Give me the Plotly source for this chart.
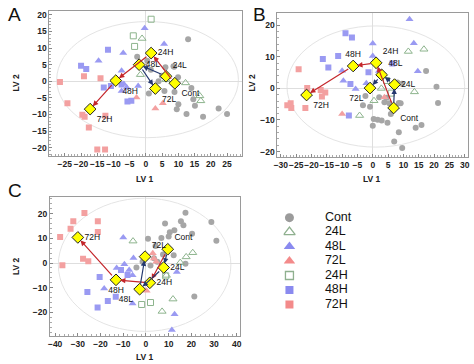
import plotly.graph_objects as go

# ---------------- groups / styles ----------------
groups = ["Cont", "24L", "48L", "72L", "24H", "48H", "72H"]
symbols = ["circle", "triangle-up-open", "triangle-up", "triangle-up",
           "square-open", "square", "square"]
point_colors = ["#a6a6a6", "#8db48d", "#9a9af2", "#f3a0a0", "#8db48d", "#9a9af2", "#f3a0a0"]
legend_colors = ["#707070", "#5f8f5f", "#5858e8", "#ee5858", "#5f8f5f", "#5858e8", "#ee5858"]
point_sizes = [6, 7, 7, 7, 6, 6, 6]
legend_sizes = [9, 10, 10, 10, 8, 8, 8]

# arrows: trajectories through centroids
path_red = ["Cont", "24H", "48H", "72H"]
path_blue = ["Cont", "24L", "48L", "72L"]

# ---------------- panel A ----------------
A_cont = [(13, 12.7), (-2.7, 7.4), (0.4, 6.2), (6, 4.2), (8.5, 4.5), (8.7, 4.4), (3.9, 0), (4.9, 1.7),
          (1.5, 3.5), (9.9, 1.2), (0.9, -3.7), (8.8, -3.2), (5.7, -2.9), (14, -2), (14.6, -5.4),
          (15.1, -7.4), (10, -6.9), (9.5, -8.4), (12.5, -9.9), (17.6, -10.7), (22.4, -8.2), (25, -9.9)]
A_24L = [(-1.2, 12.9), (-1.7, 2), (6.2, 0.5), (12.2, -0.5), (16.6, -4.4), (16.9, -5.9)]
A_48L = [(-0.4, 16), (5.6, 11.2), (-7, 8.5), (-14.6, 6.2), (-7.5, 3.2), (-2.4, -1.4), (-7.5, -2.9),
         (-5.9, -1.9), (-6.8, -0.8)]
A_72L = [(2.9, -8.2), (5.2, -6.6), (-2.9, -4.9)]
A_24H = [(1.6, 18.7), (-3.9, 13.7), (-3.5, 10.5)]
A_48H = [(-11.7, 9.5), (-20, 4.7), (-18.4, 3.7), (-13, -1.9), (-10.8, -1.4), (-5.7, -6.1),
         (-4.5, -5.9), (-7.5, -1)]
A_72H = [(-26.5, -0.2), (-24.2, -6.6), (-19.1, 1.5), (-14, 0.9), (-19.6, -10.1), (-18.9, -10.7),
         (-12.5, -10.4), (-17.6, -13.9), (-15, -20.6), (-12.6, -20.6)]
A_cent_x = [8.9, 6.2, -2.1, 2.9, 1.6, -9.3, -17.2]
A_cent_y = [-0.6, 1.5, 5.0, -2.2, 8.5, 0.2, -8.4]
A_label_pos = ["bottom right", "top right", "middle right", "bottom right",
               "middle right", "bottom right", "bottom right"]
A_ellipse = [0.5, 0.5, 28, 17.5]   # cx, cy, rx, ry
A_xrange = [-29.75, 29.5]
A_yrange = [-22.4, 21.1]
A_xticks = [-25, -20, -15, -10, -5, 0, 5, 10, 15, 20, 25]
A_yticks = [-20, -15, -10, -5, 0, 5, 10, 15, 20]

# ---------------- panel B ----------------
B_cont = [(17.4, 5.5), (20.8, 0.5), (21.3, -4.6), (15.9, -11.6), (14, -12.5), (8.5, -13.9), (7, -16.8),
          (9.6, -18.9), (0.3, -9.7), (1.6, -9.9), (2.9, -10.2), (4.8, -10.9), (0, -11.8), (-0.9, -5.8),
          (-3.2, -5.3), (-2.4, -2.4), (2.1, -2.8), (3.8, -4.4), (5.4, -4.7), (9.1, -4.7), (8, 1.9),
          (5.9, -8.1), (4.5, -3), (8.5, -4.6), (9.5, 1.5)]
B_24L = [(11.6, 11.7), (16.7, 12.4), (13.6, -1.1), (-4.3, -8.6), (2.8, 0), (0.4, -3.9)]
B_48L = [(12, 21.9), (13.4, 14.3), (14.7, 5.4), (0, 14.2), (0, 10.3), (-10, 5.6), (-9.6, 2.4),
         (-5.6, -0.2), (-2.1, 1.6), (2, 5.5)]
B_72L = [(-10, -8.1), (3.8, -2.8)]
B_24H = [(4.5, 2.5), (6, -1.5)]
B_48H = [(-8.9, 17.5), (-6.8, 16.1), (-16.3, 9.3), (-14.5, 6.6), (-11.3, 10.3), (-1.4, 5.1),
         (6.4, 7.9), (-7.3, 1.4), (-7.8, -8.6)]
B_72H = [(-24.2, 6.1), (-21.4, 0.1), (-15.5, -1.3), (-16.6, -2.6), (-27.9, -5.3), (-26.8, -4.7),
         (-26.6, -6.2), (-22, -6.2), (-17, -0.5)]
B_cent_x = [6.8, 7.1, 2.9, -0.9, 1.1, -6.4, -21.6]
B_cent_y = [-6.2, 1.2, 4.3, 0.1, 8.1, 7.1, -2.1]
B_label_pos = ["bottom right", "middle right", "top right", "bottom left",
               "top right", "top center", "bottom right"]
B_ellipse = [1, 0.6, 29, 19.2]
B_xrange = [-31.1, 31.1]
B_yrange = [-21.6, 23.9]
B_xticks = [-30, -25, -20, -15, -10, -5, 0, 5, 10, 15, 20, 25, 30]
B_yticks = [-20, -10, 0, 10, 20]

# ---------------- panel C ----------------
C_cont = [(17.4, 20.4), (15.4, 17), (16.5, 15.3), (12.5, 13.3), (10.5, 12.5), (8.4, 16), (20.3, 11.9),
          (28.8, 16.6), (31, 9), (0.9, 9.9), (6.8, 10.2), (10, 10.8), (17.4, -0.3), (21.3, -13.6),
          (12.2, 3.2), (4.2, 6.9), (-4.2, -1.8), (5, 0.5), (2, -1), (7.5, 3.5), (3.5, 2), (-1.5, 0.5)]
C_24L = [(-5.7, 8.9), (20.6, 4.2), (17.7, 2.5), (15.1, 0.2), (11.9, -14.6), (7.1, -19.6), (9, -5)]
C_48L = [(-10, 10.4), (-12.9, -2), (-18.4, -10.3), (-7.4, -2.8), (-5.9, -4.9), (-5.5, 2.1),
         (-5.9, -16.4), (12.6, -20.8), (11.4, -27.1), (13.6, -3.6), (-9.5, -0.5)]
C_72L = [(3.5, 1.9), (0.3, -11.2), (4.5, 0.5), (3, 4)]
C_24H = [(-1.9, -16.8), (2, -16), (8.7, -5.2)]
C_48H = [(-25.8, -11.7), (-20.4, -5.6), (-16.8, -15.4), (-21.3, -18), (-13.3, -13.7), (-8.1, -4.8),
         (-11, -2.8)]
C_72H = [(-27.1, 20.3), (-32, 17), (-33.2, 13.9), (-37.8, 10.6), (-21.2, 17), (-21.2, 12.6),
         (-36.8, -0.9), (-27.7, 1.7), (-25.4, 0.7)]
C_cent_x = [9.6, 7.8, -2.8, -0.4, 1.7, -13.2, -30.0]
C_cent_y = [5.6, -1.8, -10.6, 2.6, -8.0, -6.8, 10.4]
C_label_pos = ["top right", "middle right", "bottom left", "top right",
               "middle right", "bottom center", "middle right"]
C_ellipse = [-0.6, -0.7, 38, 27]
C_xrange = [-42.3, 41.4]
C_yrange = [-29.4, 26.6]
C_xticks = [-40, -30, -20, -10, 0, 10, 20, 30, 40]
C_yticks = [-20, -10, 0, 10, 20]

x_title = "LV 1"
y_title = "LV 2"

panels = [
    dict(letter="A", pts=[A_cont, A_24L, A_48L, A_72L, A_24H, A_48H, A_72H],
         cx=A_cent_x, cy=A_cent_y, lp=A_label_pos, ell=A_ellipse, xr=A_xrange, yr=A_yrange,
         xt=A_xticks, yt=A_yticks, xminor=1, yminor=1,
         xdom=[46 / 474, 240.7 / 474], ydom=[1 - 155 / 364, 1 - 10.3 / 364], lx=2 / 474, ly=1 - 1 / 364,
         xtp=(143 / 474, 1 - 178 / 364), ytp=(12 / 474, 1 - 82 / 364)),
    dict(letter="B", pts=[B_cont, B_24L, B_48L, B_72L, B_24H, B_48H, B_72H],
         cx=B_cent_x, cy=B_cent_y, lp=B_label_pos, ell=B_ellipse, xr=B_xrange, yr=B_yrange,
         xt=B_xticks, yt=B_yticks, xminor=1, yminor=2,
         xdom=[277 / 474, 470 / 474], ydom=[1 - 156 / 364, 1 - 12 / 364], lx=250 / 474, ly=1 - 1 / 364,
         xtp=(373 / 474, 1 - 178 / 364), ytp=(251 / 474, 1 - 82 / 364)),
    dict(letter="C", pts=[C_cont, C_24L, C_48L, C_72L, C_24H, C_48H, C_72H],
         cx=C_cent_x, cy=C_cent_y, lp=C_label_pos, ell=C_ellipse, xr=C_xrange, yr=C_yrange,
         xt=C_xticks, yt=C_yticks, xminor=2, yminor=2,
         xdom=[46.5 / 474, 239 / 474], ydom=[1 - 335.5 / 364, 1 - 197 / 364], lx=2 / 474, ly=1 - 177 / 364,
         xtp=(143 / 474, 1 - 357 / 364), ytp=(12 / 474, 1 - 266 / 364)),
]

FONT = "Arial, 'Liberation Sans', sans-serif"
TITLE_FONT = dict(family=FONT, size=8.5, color="#222", weight="bold")
fig = go.Figure()
annotations = []
shapes = []
layout = {}

for i, p in enumerate(panels):
    n = "" if i == 0 else str(i + 1)
    xa, ya = "x" + n, "y" + n
    # ellipse
    cx, cy, rx, ry = p["ell"]
    shapes.append(dict(type="circle", xref=xa, yref=ya, x0=cx - rx, x1=cx + rx, y0=cy - ry, y1=cy + ry,
                       line=dict(color="#e4e4e4", width=1), layer="below"))
    # sample points
    for g, pts in enumerate(p["pts"]):
        if not pts:
            continue
        fig.add_trace(go.Scatter(
            x=[q[0] for q in pts], y=[q[1] for q in pts], mode="markers", xaxis=xa, yaxis=ya,
            showlegend=False, name=groups[g],
            marker=dict(symbol=symbols[g], size=point_sizes[g], color=point_colors[g],
                        line=dict(width=1 if "open" in symbols[g] else 0, color=point_colors[g]))))
    # arrows
    for path, col in [(path_red, "#c4262b"), (path_blue, "#24386e")]:
        for a, b in zip(path[:-1], path[1:]):
            ia, ib = groups.index(a), groups.index(b)
            annotations.append(dict(
                x=p["cx"][ib], y=p["cy"][ib], ax=p["cx"][ia], ay=p["cy"][ia],
                xref=xa, yref=ya, axref=xa, ayref=ya, text="", showarrow=True,
                arrowhead=2, arrowsize=0.9, arrowwidth=1.2, arrowcolor=col,
                standoff=4, startstandoff=4))
    # centroids
    fig.add_trace(go.Scatter(
        x=p["cx"], y=p["cy"], mode="markers+text", text=groups, textposition=p["lp"],
        textfont=dict(family=FONT, size=8.5, color="#111"), xaxis=xa, yaxis=ya, showlegend=False,
        cliponaxis=False,
        marker=dict(symbol="diamond", size=9, color="#ffff00", line=dict(color="#222", width=1))))
    # panel letter
    annotations.append(dict(text=p["letter"], xref="paper", yref="paper", x=p["lx"], y=p["ly"],
                            xanchor="left", yanchor="top", showarrow=False,
                            font=dict(family=FONT, size=19, color="#111")))
    # axis titles
    annotations.append(dict(text=x_title, xref="paper", yref="paper", x=p["xtp"][0], y=p["xtp"][1],
                            xanchor="center", yanchor="middle", showarrow=False, font=TITLE_FONT))
    annotations.append(dict(text=y_title, xref="paper", yref="paper", x=p["ytp"][0], y=p["ytp"][1],
                            xanchor="center", yanchor="middle", showarrow=False, textangle=-90,
                            font=TITLE_FONT))
    axis_common = dict(showgrid=False, zeroline=True, zerolinecolor="#dedede", zerolinewidth=1,
                       showline=True, linecolor="#9a9a9a", linewidth=1, mirror=True,
                       ticks="inside", ticklen=3, tickcolor="#888", tickangle=0,
                       tickfont=dict(family=FONT, size=8.5, color="#222", weight="bold"))
    layout["xaxis" + n] = dict(axis_common, domain=p["xdom"], range=p["xr"], tickvals=p["xt"],
                               anchor=ya,
                               minor=dict(dtick=p["xminor"], ticks="inside", ticklen=2, tickcolor="#aaa"))
    layout["yaxis" + n] = dict(axis_common, domain=p["ydom"], range=p["yr"], tickvals=p["yt"],
                               anchor=xa,
                               minor=dict(dtick=p["yminor"], ticks="inside", ticklen=2, tickcolor="#aaa"))

# ---------------- legend as its own small subplot ----------------
fig.add_trace(go.Scatter(
    x=[0] * len(groups), y=groups, mode="markers", xaxis="x4", yaxis="y4", showlegend=False,
    marker=dict(symbol=symbols, size=legend_sizes, color=legend_colors,
                line=dict(width=[1.3 if "open" in s else 0 for s in symbols], color=legend_colors))))
fig.add_trace(go.Scatter(
    x=[1] * len(groups), y=groups, mode="text", text=groups, textposition="middle right",
    textfont=dict(family=FONT, size=12.5, color="#111"), xaxis="x4", yaxis="y4", showlegend=False,
    cliponaxis=False))
layout["xaxis4"] = dict(domain=[283 / 474, 325 / 474], range=[-0.17, 1.0], visible=False,
                        anchor="y4", fixedrange=True)
layout["yaxis4"] = dict(domain=[1 - 311.5 / 364, 1 - 210 / 364], range=[6.5, -0.5], visible=False,
                        anchor="x4", type="category", fixedrange=True)

fig.update_layout(width=474, height=364, margin=dict(l=0, r=0, t=0, b=0),
                  paper_bgcolor="white", plot_bgcolor="white", showlegend=False,
                  annotations=annotations, shapes=shapes, **layout)
fig.write_html("out.html", config={"displayModeBar": False},
               post_script="document.body.style.margin='0';document.body.style.overflow='hidden';")
